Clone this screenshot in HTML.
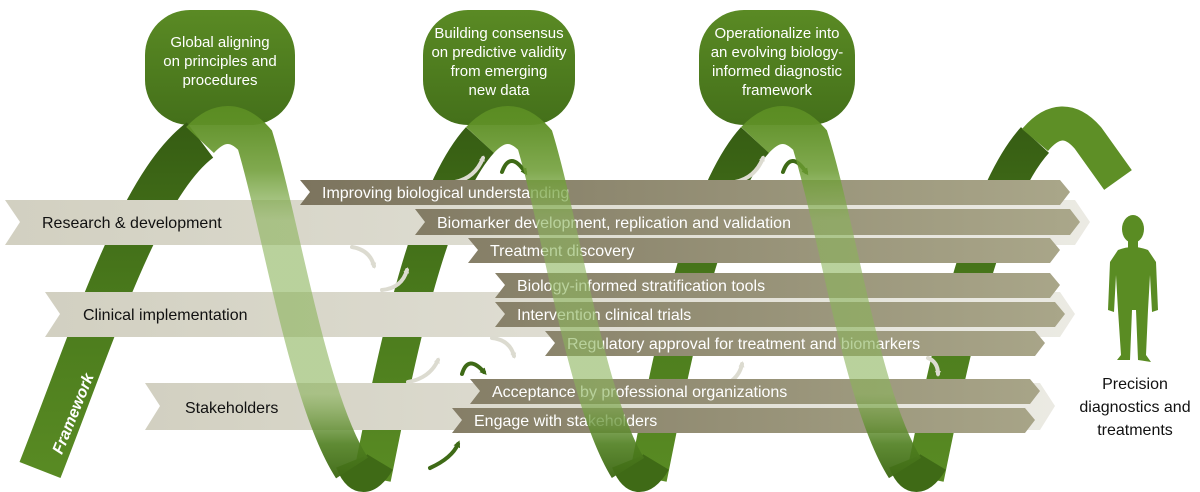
<!DOCTYPE html>
<html><head><meta charset="utf-8"><style>
html,body{margin:0;padding:0;background:#fff;}
svg{display:block;font-family:"Liberation Sans",sans-serif;}
</style></head><body>
<svg width="1200" height="492" viewBox="0 0 1200 492" xmlns="http://www.w3.org/2000/svg">
<defs>
<linearGradient id="bub" x1="0" y1="0" x2="0" y2="1"><stop offset="0" stop-color="#5a8a24"/><stop offset="1" stop-color="#44701a"/></linearGradient>
<linearGradient id="back" gradientUnits="userSpaceOnUse" x1="0" y1="110" x2="0" y2="490"><stop offset="0" stop-color="#345a12"/><stop offset="0.5" stop-color="#4a7a1c"/><stop offset="1" stop-color="#5a8c24"/></linearGradient>
<linearGradient id="front" gradientUnits="userSpaceOnUse" x1="0" y1="105" x2="0" y2="490">
<stop offset="0" stop-color="#5a8c22" stop-opacity="1"/>
<stop offset="0.17" stop-color="#6a9a30" stop-opacity="0.85"/>
<stop offset="0.3" stop-color="#8ab35a" stop-opacity="0.6"/>
<stop offset="0.75" stop-color="#8ab35a" stop-opacity="0.6"/>
<stop offset="0.88" stop-color="#4e7e1e" stop-opacity="0.9"/>
<stop offset="1" stop-color="#3b6414" stop-opacity="1"/></linearGradient>
<linearGradient id="lb" x1="0" y1="0" x2="1" y2="0"><stop offset="0" stop-color="#d2d0c1"/><stop offset="1" stop-color="#ebeae3"/></linearGradient>
<linearGradient id="db" gradientUnits="userSpaceOnUse" x1="300" y1="0" x2="1080" y2="0"><stop offset="0" stop-color="#7c745e"/><stop offset="1" stop-color="#aaa78a"/></linearGradient>
<marker id="ag" markerWidth="6" markerHeight="6" refX="3" refY="3" orient="auto" markerUnits="userSpaceOnUse"><path d="M0,0 L6,3 L0,6 Z" fill="#dcdbd0"/></marker>
<marker id="agr" markerWidth="7" markerHeight="7" refX="3" refY="3.5" orient="auto" markerUnits="userSpaceOnUse"><path d="M0,0 L7,3.5 L0,7 Z" fill="#3e6a16"/></marker>
</defs>

<!-- bubbles -->
<rect x="145" y="10" width="150" height="115" rx="45" fill="url(#bub)"/>
<rect x="423" y="10" width="152" height="115" rx="45" fill="url(#bub)"/>
<rect x="699" y="10" width="156" height="115" rx="45" fill="url(#bub)"/>
<g fill="#fff" font-size="15" text-anchor="middle">
<text x="220" y="47">Global aligning</text><text x="220" y="66">on principles and</text><text x="220" y="85">procedures</text>
<text x="499" y="38">Building consensus</text><text x="499" y="57">on predictive validity</text><text x="499" y="76">from emerging</text><text x="499" y="95">new data</text>
<text x="777" y="38">Operationalize into</text><text x="777" y="57">an evolving biology-</text><text x="777" y="76">informed diagnostic</text><text x="777" y="95">framework</text>
</g>

<!-- back strands -->
<g fill="none" stroke="url(#back)" stroke-width="38">
<path d="M40,470 C95,330 140,185 200,140" stroke-width="44"/>
<path d="M372,478 C392,380 425,200 480,140"/>
<path d="M648,478 C668,380 700,200 755,140"/>
<path d="M925,478 C945,380 980,200 1035,140"/>
</g>
<!-- bottom joins -->
<g fill="none" stroke="#3f6a16" stroke-width="30">
<path d="M350,462 Q362,492 380,462"/>
<path d="M626,462 Q638,492 656,462"/>
<path d="M903,462 Q915,492 933,462"/>
</g>
<!-- end piece -->
<path d="M1035,140 Q1062,108 1088,138 L1118,180" fill="none" stroke="#5e8f26" stroke-width="34"/>

<!-- light bands -->
<polygon points="5,200 1075,200 1090,222 1075,245 5,245 20,222" fill="url(#lb)"/>
<polygon points="45,292 1060,292 1075,314 1060,337 45,337 60,314" fill="url(#lb)"/>
<polygon points="145,383 1040,383 1055,406 1040,430 145,430 160,406" fill="url(#lb)"/>
<g font-size="16" fill="#111">
<text x="42" y="228">Research &amp; development</text>
<text x="83" y="320">Clinical implementation</text>
<text x="185" y="413">Stakeholders</text>
</g>

<!-- small arrows -->
<g fill="none" stroke-width="4" stroke-linecap="round">
<path d="M455,182 Q475,178 483,158" stroke="#dcdbd0" marker-end="url(#ag)"/>
<path d="M502,172 Q510,150 525,172" stroke="#3e6a16" marker-end="url(#agr)"/>
<path d="M735,182 Q755,178 763,158" stroke="#dcdbd0" marker-end="url(#ag)"/>
<path d="M783,172 Q791,150 806,172" stroke="#3e6a16" marker-end="url(#agr)"/>
<path d="M352,247 Q370,250 374,266" stroke="#dcdbd0" marker-end="url(#ag)"/>
<path d="M382,290 Q402,288 407,270" stroke="#dcdbd0" marker-end="url(#ag)"/>
<path d="M492,338 Q510,340 514,356" stroke="#dcdbd0" marker-end="url(#ag)"/>
<path d="M408,382 Q430,378 438,360" stroke="#dcdbd0" marker-end="url(#ag)"/>
<path d="M462,374 Q468,354 484,372" stroke="#3e6a16" marker-end="url(#agr)"/>
<path d="M430,468 Q452,458 458,444" stroke="#3e6a16" marker-end="url(#agr)"/>
<path d="M730,382 Q740,375 742,364" stroke="#dcdbd0" marker-end="url(#ag)"/>
<path d="M928,358 Q938,362 938,374" stroke="#dcdbd0" marker-end="url(#ag)"/>
</g>

<!-- dark bands -->
<g fill="url(#db)">
<polygon points="300,180 1060,180 1070,192 1060,205 300,205 310,192"/>
<polygon points="415,209 1070,209 1080,222 1070,235 415,235 425,222"/>
<polygon points="468,238 1050,238 1060,250 1050,263 468,263 478,250"/>
<polygon points="495,273 1050,273 1060,285 1050,298 495,298 505,285"/>
<polygon points="495,302 1055,302 1065,314 1055,327 495,327 505,314"/>
<polygon points="545,331 1035,331 1045,343 1035,356 545,356 555,343"/>
<polygon points="470,379 1030,379 1040,391 1030,404 470,404 480,391"/>
<polygon points="452,408 1025,408 1035,420 1025,433 452,433 462,420"/>
</g>
<g font-size="16" fill="#fff">
<text x="322" y="198">Improving biological understanding</text>
<text x="437" y="228">Biomarker development, replication and validation</text>
<text x="490" y="256">Treatment discovery</text>
<text x="517" y="291">Biology-informed stratification tools</text>
<text x="517" y="320">Intervention clinical trials</text>
<text x="567" y="349">Regulatory approval for treatment and biomarkers</text>
<text x="492" y="397">Acceptance by professional organizations</text>
<text x="474" y="426">Engage with stakeholders</text>
</g>

<!-- front strands -->
<g fill="none" stroke="url(#front)" stroke-width="38">
<path d="M200,140 Q228,110 255,140 C282,230 308,400 352,468"/>
<path d="M480,140 Q508,110 535,140 C562,230 586,400 628,468"/>
<path d="M755,140 Q783,110 810,140 C838,230 862,400 905,468"/>
</g>

<!-- Framework label -->
<text x="0" y="0" transform="translate(74,414) rotate(-68)" text-anchor="middle" dominant-baseline="middle" font-size="16" font-weight="bold" font-style="italic" fill="#fff">Framework</text>

<!-- person -->
<g fill="#5a8c23">
<ellipse cx="1133" cy="229" rx="11" ry="14"/>
<rect x="1128" y="240" width="10" height="8"/>
<path d="M1118,250 Q1133,244 1148,250 L1156,262 L1158,310 L1152,312 L1150,275 L1148,310 L1146,355 L1151,362 L1138,360 L1136,310 L1132,310 L1130,360 L1117,360 L1121,355 L1118,310 L1116,275 L1114,312 L1108,310 L1110,262 Z"/>
</g>
<g font-size="16" fill="#111" text-anchor="middle">
<text x="1135" y="389">Precision</text>
<text x="1135" y="412">diagnostics and</text>
<text x="1135" y="435">treatments</text>
</g>
</svg>
</body></html>
